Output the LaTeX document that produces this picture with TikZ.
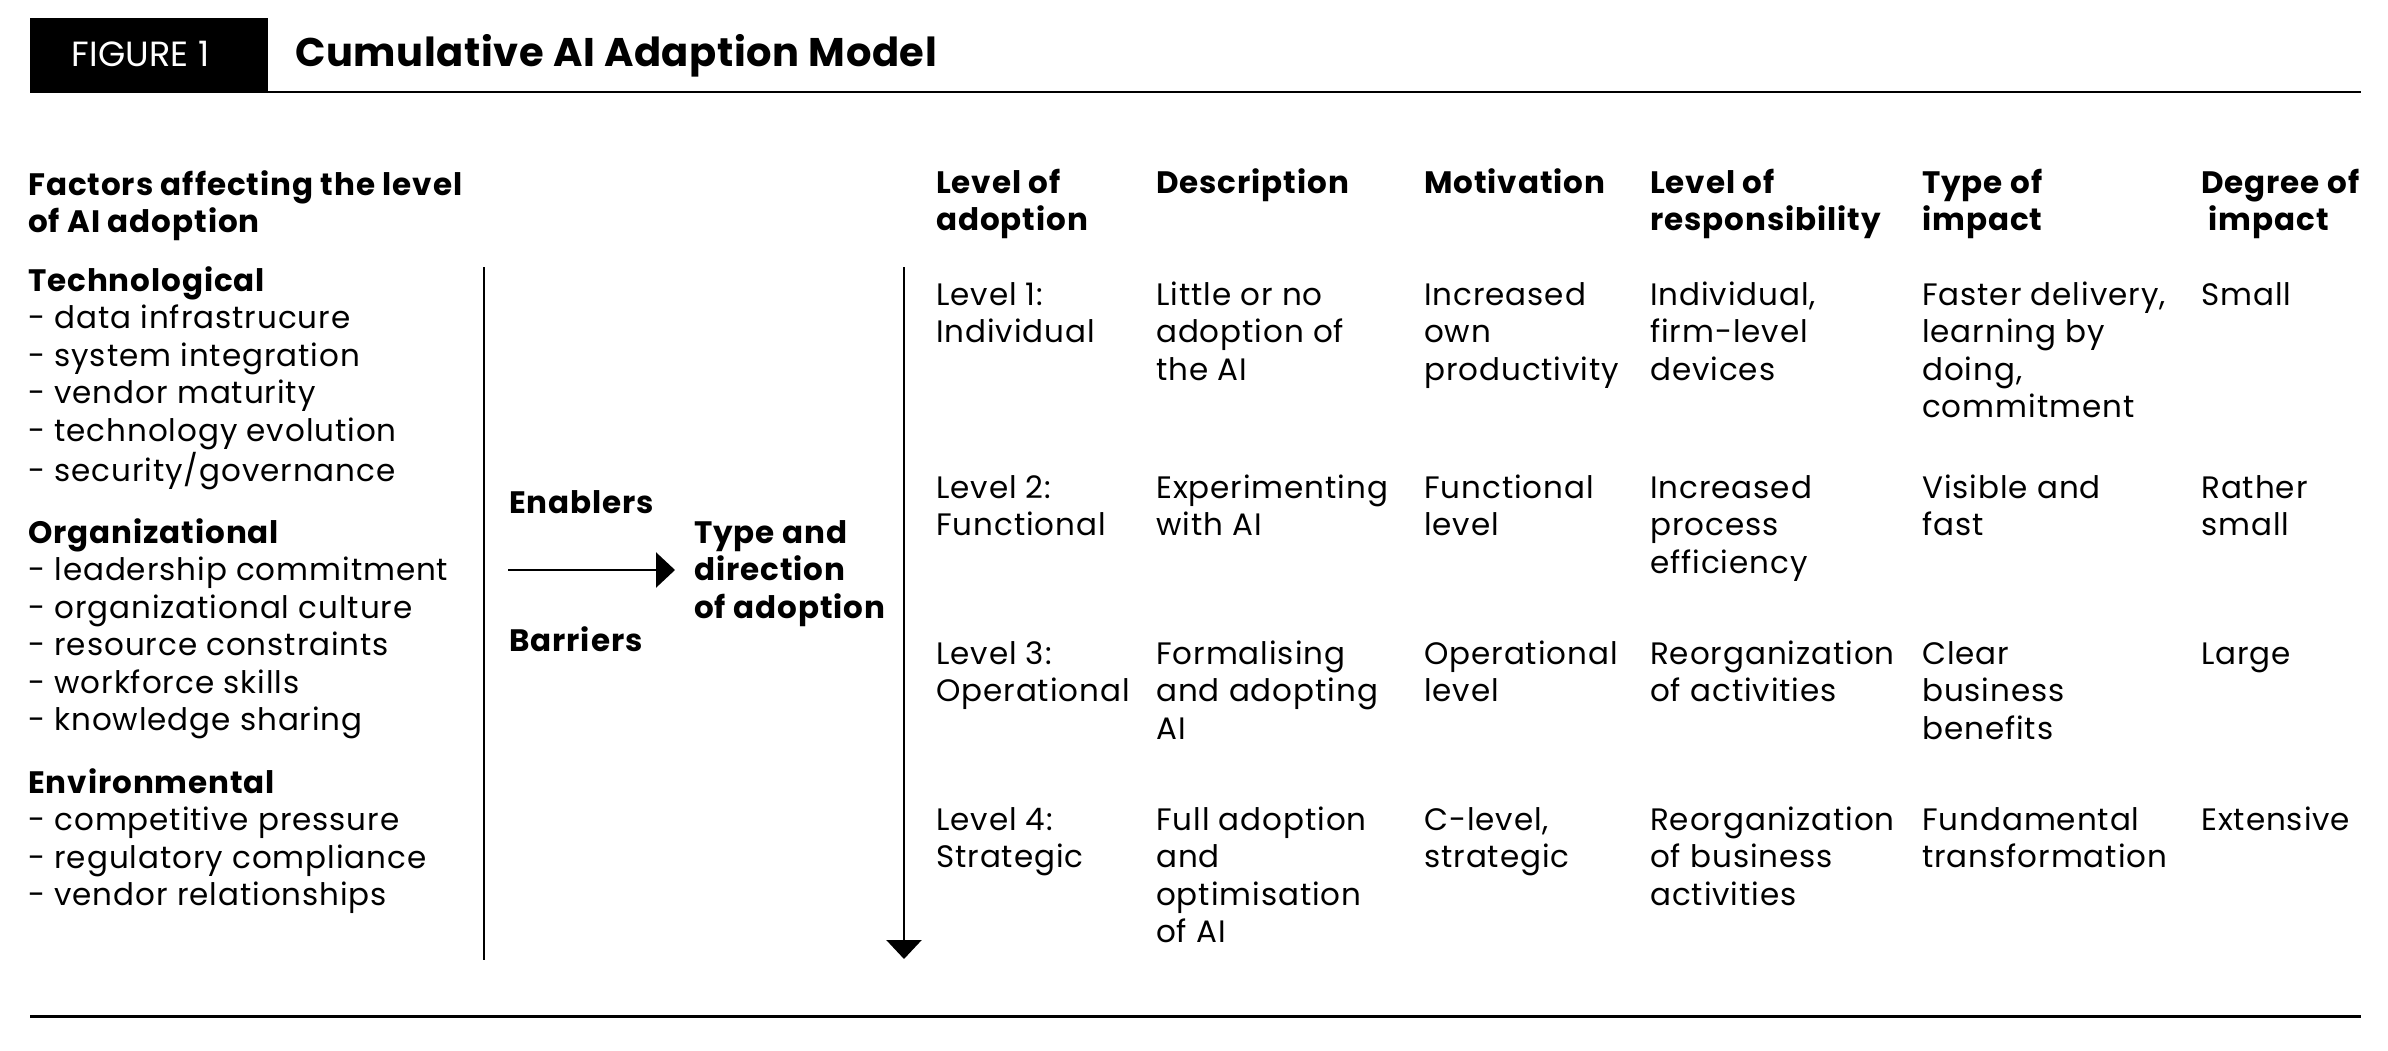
\documentclass[tikz,border=0pt]{standalone}
\usepackage{fontspec}
\setmainfont{Poppins}[LetterSpace=3.0]
\newfontfamily\titlefont{Poppins}[LetterSpace=0.8]
\newfontfamily\headfont{Poppins}[LetterSpace=1.5]
\usetikzlibrary{arrows.meta}
\newcommand{\ml}[1]{\begin{tabular}[t]{@{}l@{}}#1\end{tabular}}
\tikzset{
  body/.style={anchor=base west, inner sep=0pt, font=\fontsize{31}{37.5}\selectfont},
  bhead/.style={anchor=base west, inner sep=0pt, font=\fontsize{31}{37.5}\selectfont\bfseries},
  rule/.style={line width=2.5pt},
  bigarrow/.style={line width=2.5pt, -{Triangle[length=19pt,width=35pt]}}
}
\begin{document}
\begin{tikzpicture}[x=1pt,y=-1pt]
\useasboundingbox (0,0) rectangle (2388,1050);
% header
\fill (30,18) rectangle (268,93);
\node[anchor=base west, inner sep=0pt, text=white, font=\titlefont\fontsize{35}{40}\selectfont] (fig) at (71,66) {FIGURE 1};
\node[anchor=base west, inner sep=0pt, font=\headfont\fontsize{40}{48}\selectfont\bfseries] (title) at (295,66) {Cumulative AI Adaption Model};
\coordinate (hr1) at (268,92);
\coordinate (hr2) at (2361,92);
\draw[rule] (hr1) -- (hr2);
\coordinate (br1) at (30,1016);
\coordinate (br2) at (2361,1016);
\draw[rule, line width=3pt] (br1) -- (br2);
% left column
\node[bhead] (factors) at (28,195) {\ml{Factors affecting the level\\of AI adoption}};
\node[body] (tech) at (28,291) {\ml{\textbf{Technological}\\- data infrastrucure\\- system integration\\- vendor maturity\\- technology evolution\\- security/governance}};
\node[body] (org) at (28,543) {\ml{\textbf{Organizational}\\- leadership commitment\\- organizational culture\\- resource constraints\\- workforce skills\\- knowledge sharing}};
\node[body] (env) at (28,793) {\ml{\textbf{Environmental}\\- competitive pressure\\- regulatory compliance\\- vendor relationships}};
\coordinate (lt) at (484,267);
\coordinate (lb) at (484,960);
\draw[rule] (lt) -- (lb);
% middle
\node[bhead] (enab) at (509,513) {Enablers};
\node[bhead] (barr) at (509,651) {Barriers};
\node[bhead] (type) at (694,543) {\ml{Type and\\direction\\of adoption}};
\coordinate (as) at (508,570);
\coordinate (ae) at (675,570);
\draw[bigarrow] (as) -- (ae);
\coordinate (dt) at (904,267);
\coordinate (db) at (904,959);
\draw[bigarrow] (dt) -- (db);
% table header
\node[bhead] (h1) at (936,193) {\ml{Level of\\adoption}};
\node[bhead] (h2) at (1156,193) {Description};
\node[bhead] (h3) at (1424,193) {Motivation};
\node[bhead] (h4) at (1650,193) {\ml{Level of\\responsibility}};
\node[bhead] (h5) at (1922,193) {\ml{Type of\\impact}};
\node[bhead] (h6) at (2201,193) {\ml{Degree of\\\ impact}};
% row 1
\node[body] (r1a) at (936,305) {\ml{Level 1:\\Individual}};
\node[body] (r1b) at (1156,305) {\ml{Little or no\\adoption of\\the AI}};
\node[body] (r1c) at (1424,305) {\ml{Increased\\own\\productivity}};
\node[body] (r1d) at (1650,305) {\ml{Individual,\\firm-level\\devices}};
\node[body] (r1e) at (1922,305) {\ml{Faster delivery,\\learning by\\doing,\\commitment}};
\node[body] (r1f) at (2201,305) {Small};
% row 2
\node[body] (r2a) at (936,498) {\ml{Level 2:\\Functional}};
\node[body] (r2b) at (1156,498) {\ml{Experimenting\\with AI}};
\node[body] (r2c) at (1424,498) {\ml{Functional\\level}};
\node[body] (r2d) at (1650,498) {\ml{Increased\\process\\efficiency}};
\node[body] (r2e) at (1922,498) {\ml{Visible and\\fast}};
\node[body] (r2f) at (2201,498) {\ml{Rather\\small}};
% row 3
\node[body] (r3a) at (936,664) {\ml{Level 3:\\Operational}};
\node[body] (r3b) at (1156,664) {\ml{Formalising\\and adopting\\AI}};
\node[body] (r3c) at (1424,664) {\ml{Operational\\level}};
\node[body] (r3d) at (1650,664) {\ml{Reorganization\\of activities}};
\node[body] (r3e) at (1922,664) {\ml{Clear\\business\\benefits}};
\node[body] (r3f) at (2201,664) {Large};
% row 4
\node[body] (r4a) at (936,830) {\ml{Level 4:\\Strategic}};
\node[body] (r4b) at (1156,830) {\ml{Full adoption\\and\\optimisation\\of AI}};
\node[body] (r4c) at (1424,830) {\ml{C-level,\\strategic}};
\node[body] (r4d) at (1650,830) {\ml{Reorganization\\of business\\activities}};
\node[body] (r4e) at (1922,830) {\ml{Fundamental\\transformation}};
\node[body] (r4f) at (2201,830) {Extensive};
\end{tikzpicture}
\end{document}
